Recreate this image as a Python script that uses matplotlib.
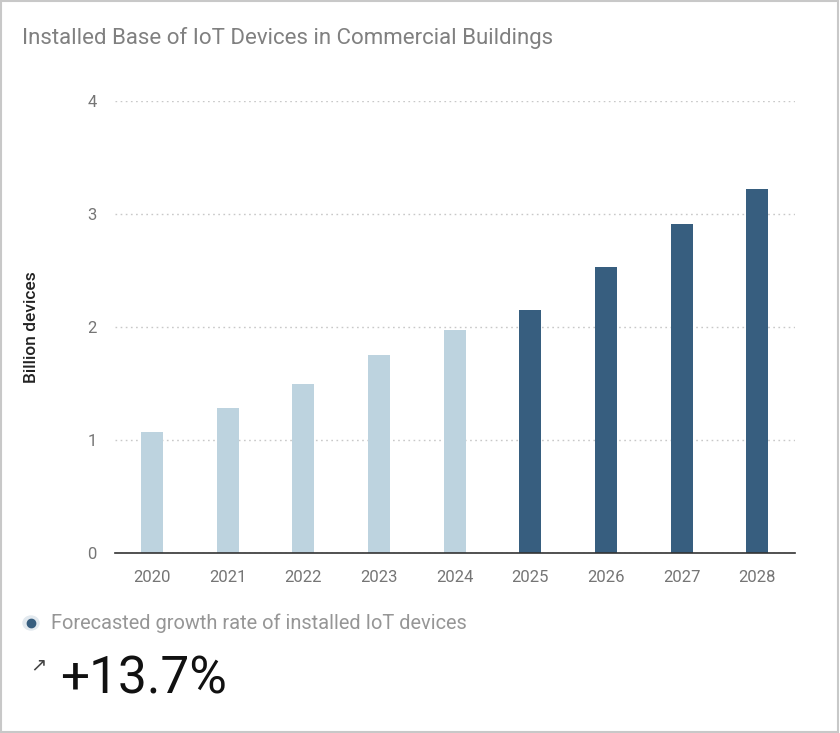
import matplotlib
matplotlib.use("Agg")
import matplotlib.pyplot as plt
from matplotlib.patches import Rectangle

years = ["2020", "2021", "2022", "2023", "2024", "2025", "2026", "2027", "2028"]
devices = [1.07, 1.28, 1.50, 1.75, 1.97, 2.15, 2.53, 2.91, 3.22]
forecast = [False, False, False, False, False, True, True, True, True]
yticks = [0, 1, 2, 3, 4]

title = "Installed Base of IoT Devices in Commercial Buildings"
legend_text = "Forecasted growth rate of installed IoT devices"
growth_text = "+13.7%"

light = "#bdd3df"
dark = "#375e7f"

plt.rcParams["font.family"] = ["Roboto", "DejaVu Sans"]

fig = plt.figure(figsize=(8.4, 7.33), dpi=100)
ax = fig.add_axes([115 / 840, 1 - 553 / 733, 680 / 840, 452 / 733])

colors = [dark if f else light for f in forecast]
x = range(len(years))
ax.bar(x, devices, width=0.29, color=colors, zorder=3)

ax.set_xlim(-0.49, 8.5)
ax.set_ylim(0, 4)
ax.set_yticks(yticks)
ax.set_xticks(list(x))
ax.set_xticklabels(years)
ax.tick_params(axis="both", length=0, labelsize=12, colors="#757575")
ax.tick_params(axis="x", pad=12)
ax.tick_params(axis="y", pad=13)
ax.yaxis.grid(True, linestyle=(0, (1.2, 2.5)), color="#c8c8c8", linewidth=1, zorder=0)

for s in ["top", "right", "left"]:
    ax.spines[s].set_visible(False)
ax.spines["bottom"].set_color("#333333")
ax.spines["bottom"].set_linewidth(1.2)
ax.spines["bottom"].set_zorder(4)

ax.yaxis.set_label_coords(-76 / 680, 0.5)
ax.set_ylabel("Billion devices", fontsize=12.5, color="#222222", fontweight="medium")

fig.text(22 / 840, 1 - 38 / 733, title, fontsize=16, color="#808080", va="center", ha="left")

# legend marker with halo
fig.patches.append(plt.Circle((31 / 840, 1 - 623 / 733), 8 / 840, transform=fig.transFigure,
                              color="#e2e9ef", figure=fig))
fig.lines.append(plt.Line2D([31 / 840], [1 - 623 / 733], marker="o", markersize=6,
                            color=dark, transform=fig.transFigure, figure=fig))
fig.text(51 / 840, 1 - 623 / 733, legend_text, fontsize=14.4, color="#969696", va="center", ha="left")

fig.text(30 / 840, 1 - 665 / 733, "\u2197", fontsize=14, color="#444444", va="center", ha="left",
         family="DejaVu Sans")
fig.text(60 / 840, 1 - 680 / 733, growth_text, fontsize=37, color="#111111", va="center", ha="left")

fig.patches.append(Rectangle((0.001, 0.002), 0.997, 0.997, transform=fig.transFigure,
                             fill=False, edgecolor="#c8c8c8", linewidth=1.5, figure=fig))

fig.savefig("out.png", dpi=100)
